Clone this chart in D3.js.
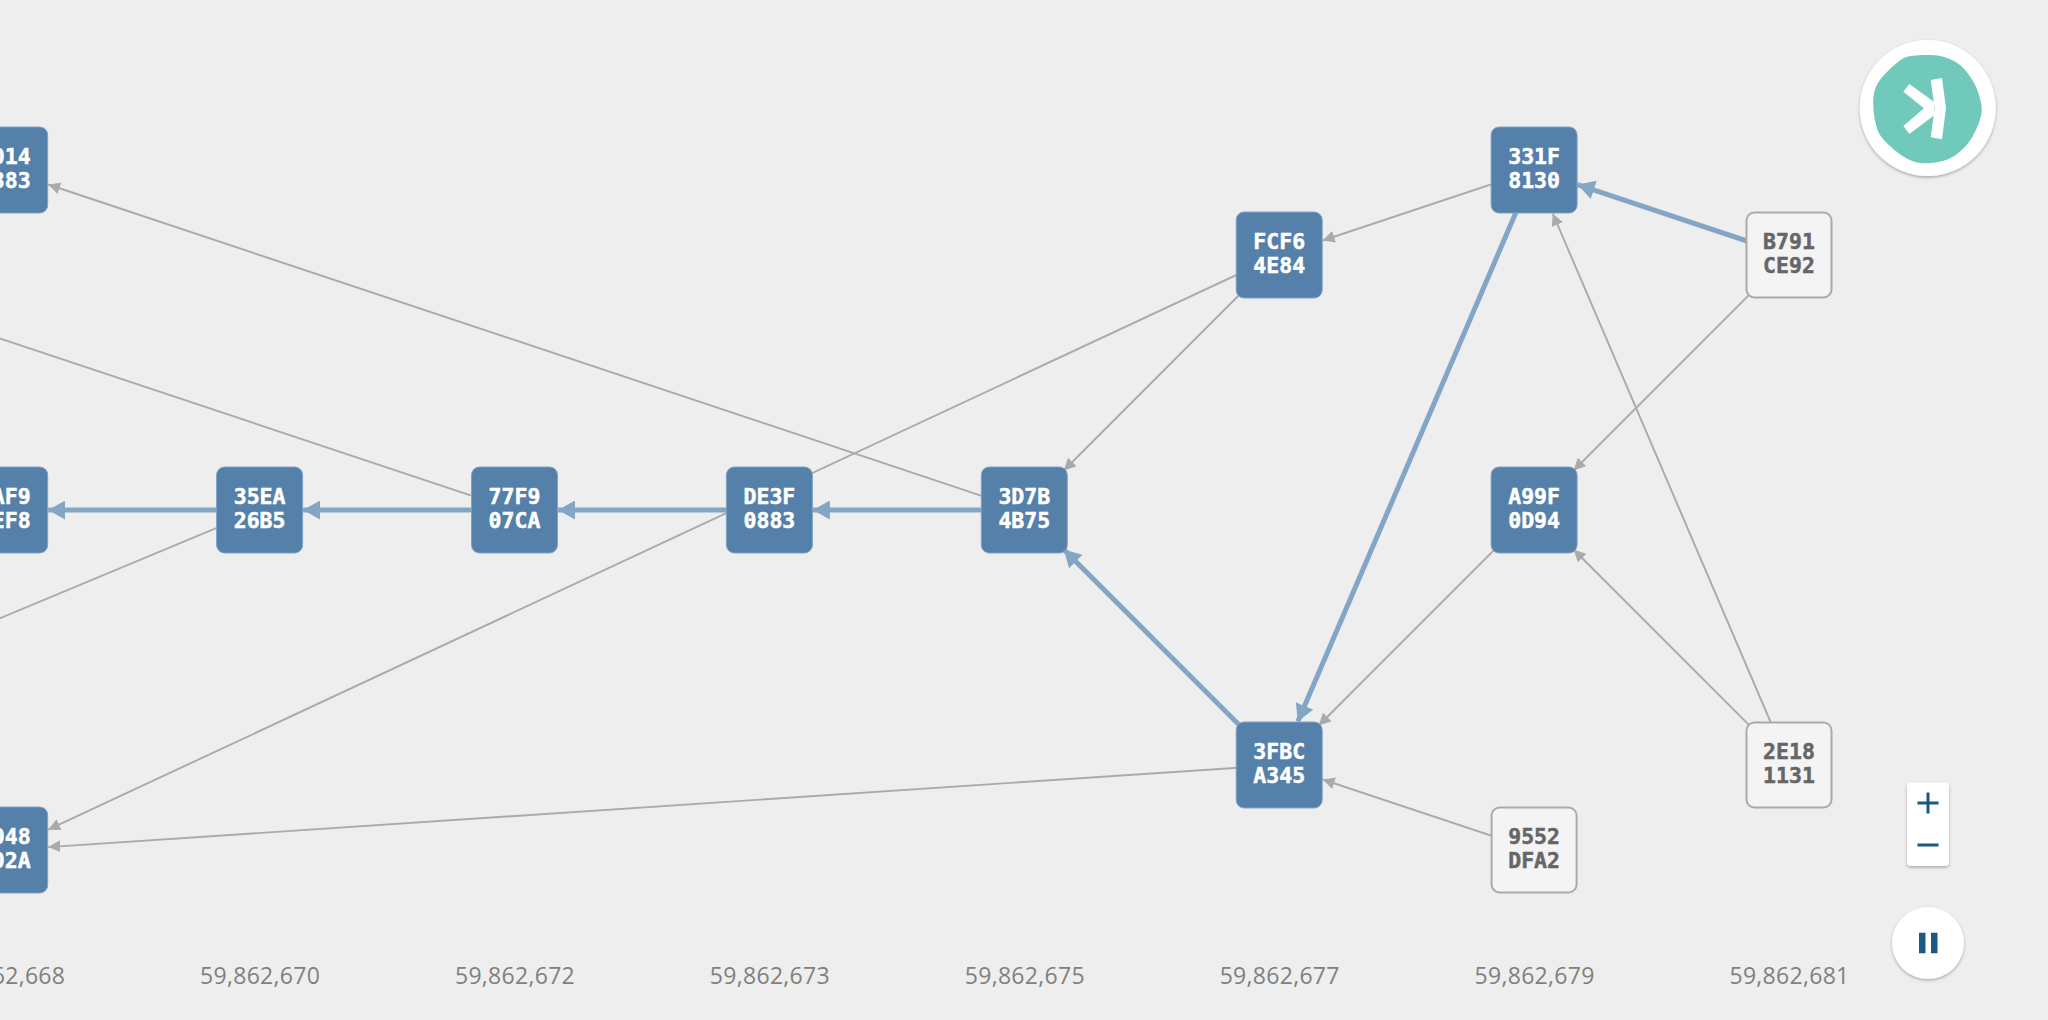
<!DOCTYPE html>
<html>
<head>
<meta charset="utf-8">
<script src="https://cdn.jsdelivr.net/npm/d3@7"></script>
<style>
  body { margin: 0; background: #eeeeee; overflow: hidden; }
</style>
</head>
<body>
<div id="dag"></div>
<script>
const width = 2048;
const height = 1020;

// blue scores on the axis, the ones before them are off screen to the left
const offTicks = ["59,862,662", "59,862,664", "59,862,666"];
const ticks = ["59,862,668", "59,862,670", "59,862,672", "59,862,673",
  "59,862,675", "59,862,677", "59,862,679", "59,862,681"];

const blockIds = ["D014F383", "6AF99EF8", "7048D02A", "35EA26B5", "77F907CA", "DE3F0883",
  "3D7B4B75", "FCF64E84", "3FBCA345", "331F8130", "A99F0D94", "9552DFA2", "B791CE92", "2E181131",
  "offA", "offB"];
const blockScores = [ticks[0], ticks[0], ticks[0], ticks[1], ticks[2], ticks[3],
  ticks[4], ticks[5], ticks[5], ticks[6], ticks[6], ticks[6], ticks[7], ticks[7],
  offTicks[2], offTicks[0]];
const blockLanes = [-1, 3, 7, 3, 3, 3, 3, 0, 6, -1, 3, 7, 0, 6, 0, 8];
const blueSet = ["D014F383", "6AF99EF8", "7048D02A", "35EA26B5", "77F907CA", "DE3F0883",
  "3D7B4B75", "FCF64E84", "3FBCA345", "331F8130", "A99F0D94"];

const thinEdges = [
  ["3D7B4B75", "D014F383"], ["77F907CA", "offA"], ["35EA26B5", "offB"],
  ["FCF64E84", "7048D02A"], ["3FBCA345", "7048D02A"], ["FCF64E84", "3D7B4B75"],
  ["331F8130", "FCF64E84"], ["A99F0D94", "3FBCA345"], ["9552DFA2", "3FBCA345"],
  ["B791CE92", "A99F0D94"], ["2E181131", "A99F0D94"], ["2E181131", "331F8130"]
];
const chainEdges = [
  ["35EA26B5", "6AF99EF8"], ["77F907CA", "35EA26B5"], ["DE3F0883", "77F907CA"],
  ["3D7B4B75", "DE3F0883"], ["3FBCA345", "3D7B4B75"], ["331F8130", "3FBCA345"],
  ["B791CE92", "331F8130"]
];

const blocks = blockIds.map((id, i) => ({
  id,
  score: blockScores[i],
  lane: blockLanes[i],
  blue: blueSet.includes(id)
}));
const byId = new Map(blocks.map(d => [d.id, d]));

const svg = d3.select("#dag")
  .append("svg")
  .attr("width", width)
  .attr("height", height)
  .style("display", "block");

const x = d3.scalePoint()
  .domain(offTicks.concat(ticks))
  .range([4.7 - 3 * 254.9, 1789]);

const y = d3.scaleLinear()
  .domain([0, 7])
  .range([255, 850]);

const boxSize = 86;
const chamfer = 8;

const defs = svg.append("defs");

function addMarker(id, len, wide, color) {
  defs.append("marker")
    .attr("id", id)
    .attr("markerUnits", "userSpaceOnUse")
    .attr("viewBox", `0 ${-wide / 2} ${len} ${wide}`)
    .attr("refX", len)
    .attr("refY", 0)
    .attr("markerWidth", len)
    .attr("markerHeight", wide)
    .attr("orient", "auto")
    .append("path")
    .attr("d", `M0,${-wide / 2}L${len},0L0,${wide / 2}Z`)
    .attr("fill", color);
}
addMarker("arrow-thin", 12, 12, "#aaaaaa");
addMarker("arrow-chain", 17, 19, "#84a6c6");

const shadow = defs.append("filter")
  .attr("id", "soft")
  .attr("x", "-20%").attr("y", "-20%")
  .attr("width", "140%").attr("height", "140%");
shadow.append("feDropShadow")
  .attr("dx", 0).attr("dy", 1.5)
  .attr("stdDeviation", 1.5)
  .attr("flood-color", "#000")
  .attr("flood-opacity", 0.3);

// where the center to center line enters the box of the target, corners cut off
function edgeEnds(pair) {
  const a = byId.get(pair[0]);
  const b = byId.get(pair[1]);
  const x1 = x(a.score), y1 = y(a.lane);
  const x2 = x(b.score), y2 = y(b.lane);
  const dx = x2 - x1, dy = y2 - y1;
  const half = boxSize / 2 + 0.5;
  const t = Math.min(
    dx === 0 ? Infinity : half / Math.abs(dx),
    dy === 0 ? Infinity : half / Math.abs(dy),
    (2 * half - chamfer) / (Math.abs(dx) + Math.abs(dy))
  );
  return { x1, y1, x2: x2 - dx * t, y2: y2 - dy * t };
}

function drawEdges(list, cls, strokeColor, strokeW, marker) {
  svg.append("g")
    .attr("class", cls)
    .selectAll("line")
    .data(list)
    .enter()
    .append("line")
    .each(function(d) {
      const e = edgeEnds(d);
      d3.select(this)
        .attr("x1", e.x1).attr("y1", e.y1)
        .attr("x2", e.x2).attr("y2", e.y2);
    })
    .attr("stroke", strokeColor)
    .attr("stroke-width", strokeW)
    .attr("marker-end", `url(#${marker})`);
}

drawEdges(thinEdges, "thin", "#aaaaaa", 1.9, "arrow-thin");
drawEdges(chainEdges, "chain", "#84a6c6", 5, "arrow-chain");

const node = svg.append("g")
  .attr("class", "blocks")
  .selectAll("g")
  .data(blocks.filter(d => !d.id.startsWith("off")))
  .enter()
  .append("g")
  .attr("transform", d => `translate(${x(d.score)},${y(d.lane)})`);

node.append("rect")
  .attr("x", d => d.blue ? -boxSize / 2 : -boxSize / 2 + 0.5)
  .attr("y", d => d.blue ? -boxSize / 2 : -boxSize / 2 + 0.5)
  .attr("width", d => d.blue ? boxSize : boxSize - 1)
  .attr("height", d => d.blue ? boxSize : boxSize - 1)
  .attr("rx", 8)
  .attr("fill", d => d.blue ? "#5580aa" : "#f4f4f4")
  .attr("stroke", d => d.blue ? "#7fa2c4" : "#aaaaaa")
  .attr("stroke-width", d => d.blue ? 1 : 2);

function blockText(sel, yPos, pick) {
  sel.append("text")
    .attr("text-anchor", "middle")
    .attr("y", yPos)
    .style("font-family", "'DejaVu Sans Mono', monospace")
    .style("font-weight", "bold")
    .style("font-size", "21.5px")
    .attr("fill", d => d.blue ? "#ffffff" : "#666666")
    .attr("stroke", d => d.blue ? "#ffffff" : "#666666")
    .attr("stroke-width", 0.5)
    .text(pick);
}
blockText(node, -6, d => d.id.slice(0, 4));
blockText(node, 17.7, d => d.id.slice(4));

const axis = svg.append("g")
  .attr("transform", "translate(0,965)")
  .call(d3.axisBottom(x).tickValues(ticks).tickSize(0));
axis.select(".domain").remove();
axis.selectAll("text")
  .style("font-family", "'Open Sans', sans-serif")
  .style("font-size", "23px")
  .style("letter-spacing", "0.3px")
  .attr("fill", "#808080");

// logo top right
const logo = svg.append("g");
logo.append("circle")
  .attr("cx", 1927.7).attr("cy", 108).attr("r", 68)
  .attr("fill", "#ffffff")
  .attr("filter", "url(#soft)");

const blob = [[370,175],[400,167],[440,165],[490,170],[540,195],[580,245],[600,295],[605,335],
  [590,385],[560,435],[510,475],[440,490],[395,482],[350,455],[300,405],[287,370],[280,320],
  [283,275],[300,240]];
const kBar = [[452,240],[486,234],[498,325],[486,418],[452,412],[464,325]];
const kArms = [[370,275],[388,252],[462,305],[464,345],[388,402],[370,378],[432,325]];
const toPage = p => [1780 + p[0] / 3, p[1] / 3];

logo.append("path")
  .attr("d", d3.line().curve(d3.curveCatmullRomClosed)(blob.map(toPage)))
  .attr("fill", "#70c9bb");
logo.selectAll("polygon")
  .data([kBar, kArms])
  .enter()
  .append("polygon")
  .attr("points", d => d.map(toPage).join(" "))
  .attr("fill", "#ffffff");

// zoom buttons
const btnColor = "#1a5a80";
const zoomBox = svg.append("g");
zoomBox.append("rect")
  .attr("x", 1907).attr("y", 782.5)
  .attr("width", 42).attr("height", 83.5)
  .attr("rx", 4)
  .attr("fill", "#ffffff")
  .attr("filter", "url(#soft)");
zoomBox.append("path")
  .attr("d", "M1917.5,803H1938.5M1928,792.5V813.5M1917.5,845H1938.5")
  .attr("stroke", btnColor)
  .attr("stroke-width", 3)
  .attr("fill", "none");

// pause button
const pause = svg.append("g");
pause.append("circle")
  .attr("cx", 1928).attr("cy", 943).attr("r", 36)
  .attr("fill", "#ffffff")
  .attr("filter", "url(#soft)");
pause.append("path")
  .attr("d", "M1919,932.7h6.5v20.6h-6.5zM1931,932.7h6.5v20.6h-6.5z")
  .attr("fill", btnColor);
</script>
</body>
</html>
